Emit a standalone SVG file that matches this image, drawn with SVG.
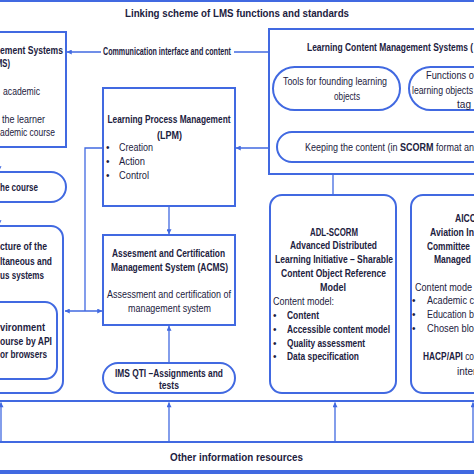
<svg xmlns="http://www.w3.org/2000/svg" width="474" height="474" viewBox="0 0 474 474">
<defs>
<marker id="ah" viewBox="0 0 10 10" refX="9.5" refY="5" markerWidth="6" markerHeight="5" orient="auto-start-reverse" markerUnits="userSpaceOnUse"><path d="M0,0 L10,5 L0,10 z" fill="#4169E1"/></marker>
</defs>
<style>
.box{fill:#fff;stroke:#4169E1;stroke-width:2}
.ln{fill:none;stroke:#4169E1;stroke-width:1.3}
.bus{fill:none;stroke:#4169E1;stroke-width:2}
text{font-family:"Liberation Sans",Arial,sans-serif;font-size:10px;fill:#1c2140}
.b{font-weight:bold}
.c{text-anchor:middle}
.e{text-anchor:end}
</style>
<rect width="474" height="474" fill="#fff"/>
<rect x="0" y="0" width="474" height="2" fill="#4169E1"/>
<rect x="0" y="470" width="474" height="4" fill="#4169E1"/>
<text x="237" y="17" class="b c" font-size="12.5" textLength="224" lengthAdjust="spacingAndGlyphs" fill="#111">Linking scheme of LMS functions and standards</text>

<g id="connectors">
<line x1="0" y1="401" x2="474" y2="401" class="bus"/>
<line x1="0" y1="442" x2="474" y2="442" class="bus"/>
<line x1="1" y1="441" x2="1" y2="402.5" class="ln" marker-end="url(#ah)"/>
<line x1="169" y1="441" x2="169" y2="402.5" class="ln" marker-end="url(#ah)"/>
<line x1="335" y1="441" x2="335" y2="402.5" class="ln" marker-end="url(#ah)"/>
<line x1="473" y1="441" x2="473" y2="402.5" class="ln" marker-end="url(#ah)"/>
<line x1="269" y1="52" x2="234" y2="52" class="ln"/>
<line x1="101" y1="52" x2="67" y2="52" class="ln" marker-end="url(#ah)"/>
<text x="103" y="55" class="b" font-size="8" textLength="128" lengthAdjust="spacingAndGlyphs">Communication interface and content</text>
<line x1="269" y1="148" x2="236" y2="148" class="ln" marker-end="url(#ah)"/>
<path d="M103,148 H85 V311" class="ln"/>
<line x1="65" y1="311" x2="102" y2="311" class="ln" marker-start="url(#ah)" marker-end="url(#ah)"/>
<line x1="169" y1="207" x2="169" y2="234" class="ln" marker-end="url(#ah)"/>
<line x1="169" y1="363" x2="169" y2="326" class="ln" marker-end="url(#ah)"/>
<line x1="333" y1="175" x2="333" y2="195" class="ln"/>
<line x1="337" y1="110" x2="337" y2="132" class="ln"/>
<line x1="469" y1="110" x2="469" y2="132" class="ln"/>
<line x1="-1" y1="150" x2="-1" y2="171" class="ln" marker-end="url(#ah)"/>
<line x1="-1" y1="205" x2="-1" y2="225" class="ln" marker-end="url(#ah)"/>
</g>

<g id="lms">
<rect x="-10" y="32" width="76" height="115" class="box"/>
<text x="63" y="54" class="b e" textLength="63" lengthAdjust="spacingAndGlyphs">ement Systems</text>
<text x="10" y="67" class="b e" textLength="14" lengthAdjust="spacingAndGlyphs">MS)</text>
<text x="40" y="95" class="e" textLength="37" lengthAdjust="spacingAndGlyphs">academic</text>
<text x="45" y="123" class="e" textLength="43" lengthAdjust="spacingAndGlyphs">the learner</text>
<text x="55" y="136" class="e" textLength="55" lengthAdjust="spacingAndGlyphs">ademic course</text>
</g>

<g id="course">
<rect x="-20" y="172" width="86" height="30" rx="15" class="box"/>
<text x="38" y="191" class="b e" textLength="38" lengthAdjust="spacingAndGlyphs">he course</text>
</g>

<g id="structure">
<rect x="-20" y="226" width="83" height="167" rx="12" class="box"/>
<text x="47" y="250" class="b e" textLength="47" lengthAdjust="spacingAndGlyphs">cture of the</text>
<text x="52" y="264.5" class="b e" textLength="52" lengthAdjust="spacingAndGlyphs">ltaneous and</text>
<text x="44" y="278.5" class="b e" textLength="44" lengthAdjust="spacingAndGlyphs">us systems</text>
</g>

<g id="environment">
<rect x="-20" y="302" width="77" height="77" rx="12" class="box"/>
<text x="45" y="331" class="b e" textLength="45" lengthAdjust="spacingAndGlyphs">vironment</text>
<text x="52" y="345" class="b e" textLength="52" lengthAdjust="spacingAndGlyphs">ourse by API</text>
<text x="47" y="358" class="b e" textLength="47" lengthAdjust="spacingAndGlyphs">or browsers</text>
</g>

<g id="lpm">
<rect x="103" y="88" width="132" height="118" class="box"/>
<text x="169" y="123" class="b c" textLength="123" lengthAdjust="spacingAndGlyphs">Learning Process Management</text>
<text x="169.5" y="139" class="b c" textLength="25" lengthAdjust="spacingAndGlyphs">(LPM)</text>
<text x="106" y="151">•</text>
<text x="106" y="165">•</text>
<text x="106" y="179">•</text>
<text x="119" y="151" textLength="34" lengthAdjust="spacingAndGlyphs">Creation</text>
<text x="119" y="165" textLength="26" lengthAdjust="spacingAndGlyphs">Action</text>
<text x="119" y="179" textLength="30" lengthAdjust="spacingAndGlyphs">Control</text>
</g>

<g id="acms">
<rect x="103" y="235" width="132" height="90" class="box"/>
<text x="168.5" y="256.5" class="b c" textLength="113" lengthAdjust="spacingAndGlyphs">Assesment and Certification</text>
<text x="169.5" y="270.5" class="b c" textLength="117" lengthAdjust="spacingAndGlyphs">Management System (ACMS)</text>
<text x="169" y="298" class="c" textLength="124" lengthAdjust="spacingAndGlyphs">Assessment and certification of</text>
<text x="169.5" y="312" class="c" textLength="83" lengthAdjust="spacingAndGlyphs">management system</text>
</g>

<g id="imsqti">
<rect x="103" y="363" width="132" height="30" rx="15" class="box"/>
<text x="169" y="377" class="b c" textLength="108" lengthAdjust="spacingAndGlyphs">IMS QTI –Assignments and</text>
<text x="169" y="389" class="b c" textLength="20" lengthAdjust="spacingAndGlyphs">tests</text>
</g>

<g id="lcms">
<rect x="269" y="29" width="230" height="145" class="box"/>
<text x="307" y="51" class="b" textLength="166" lengthAdjust="spacingAndGlyphs">Learning Content Management Systems (</text>
</g>

<g id="tools">
<rect x="273" y="67" width="127" height="43" rx="21.5" class="box"/>
<text x="335" y="85" class="c" textLength="104" lengthAdjust="spacingAndGlyphs">Tools for founding learning</text>
<text x="347" y="100" class="c" textLength="26" lengthAdjust="spacingAndGlyphs">objects</text>
</g>

<g id="functions">
<rect x="409" y="67" width="140" height="43" rx="21.5" class="box"/>
<text x="426" y="79" textLength="50.5" lengthAdjust="spacingAndGlyphs">Functions of</text>
<text x="412" y="93.5" textLength="61" lengthAdjust="spacingAndGlyphs">learning objects</text>
<text x="457" y="107.5" textLength="14" lengthAdjust="spacingAndGlyphs">tag</text>
</g>

<g id="keeping">
<rect x="277" y="132" width="230" height="30" rx="15" class="box"/>
<text x="305" y="150.5" textLength="174" lengthAdjust="spacingAndGlyphs">Keeping the content (in <tspan class="b">SCORM</tspan> format and</text>
</g>

<g id="adl-scorm">
<rect x="270" y="195" width="126" height="198" rx="12" class="box"/>
<text x="334" y="235.5" class="b c" textLength="48" lengthAdjust="spacingAndGlyphs">ADL-SCORM</text>
<text x="333.5" y="249" class="b c" textLength="87" lengthAdjust="spacingAndGlyphs">Advanced Distributed</text>
<text x="334" y="263" class="b c" textLength="118" lengthAdjust="spacingAndGlyphs">Learning Initiative – Sharable</text>
<text x="333.5" y="276.5" class="b c" textLength="105" lengthAdjust="spacingAndGlyphs">Content Object Reference</text>
<text x="333" y="290.5" class="b c" textLength="26" lengthAdjust="spacingAndGlyphs">Model</text>
<text x="273" y="304.5" textLength="61" lengthAdjust="spacingAndGlyphs">Content model:</text>
<text x="273" y="318.5">•</text>
<text x="273" y="332.5">•</text>
<text x="273" y="346.5">•</text>
<text x="273" y="360">•</text>
<text x="287" y="318.5" class="b" textLength="32" lengthAdjust="spacingAndGlyphs">Content</text>
<text x="287" y="332.5" class="b" textLength="103" lengthAdjust="spacingAndGlyphs">Accessible content model</text>
<text x="287" y="346.5" class="b" textLength="78" lengthAdjust="spacingAndGlyphs">Quality assessment</text>
<text x="287" y="360" class="b" textLength="72" lengthAdjust="spacingAndGlyphs">Data specification</text>
</g>

<g id="aicc">
<rect x="411" y="195" width="120" height="198" rx="12" class="box"/>
<text x="455" y="222" class="b" textLength="21" lengthAdjust="spacingAndGlyphs">AICC</text>
<text x="430" y="236" class="b" textLength="44" lengthAdjust="spacingAndGlyphs">Aviation In</text>
<text x="427" y="249.5" class="b" textLength="43" lengthAdjust="spacingAndGlyphs">Committee</text>
<text x="434" y="263" class="b" textLength="37" lengthAdjust="spacingAndGlyphs">Managed</text>
<text x="415" y="291" textLength="57" lengthAdjust="spacingAndGlyphs">Content mode</text>
<text x="412" y="304">•</text>
<text x="412" y="318">•</text>
<text x="412" y="332">•</text>
<text x="427" y="303.5" textLength="47" lengthAdjust="spacingAndGlyphs">Academic c</text>
<text x="427" y="318" textLength="47" lengthAdjust="spacingAndGlyphs">Education b</text>
<text x="427" y="332" textLength="47" lengthAdjust="spacingAndGlyphs">Chosen blo</text>
<text x="423" y="359.5" textLength="51" lengthAdjust="spacingAndGlyphs"><tspan class="b">HACP/API</tspan> co</text>
<text x="457" y="374.5">inter</text>
</g>

<g id="other-resources">
<text x="236.5" y="461" class="b c" font-size="11" textLength="133" lengthAdjust="spacingAndGlyphs">Other information resources</text>
</g>
</svg>
